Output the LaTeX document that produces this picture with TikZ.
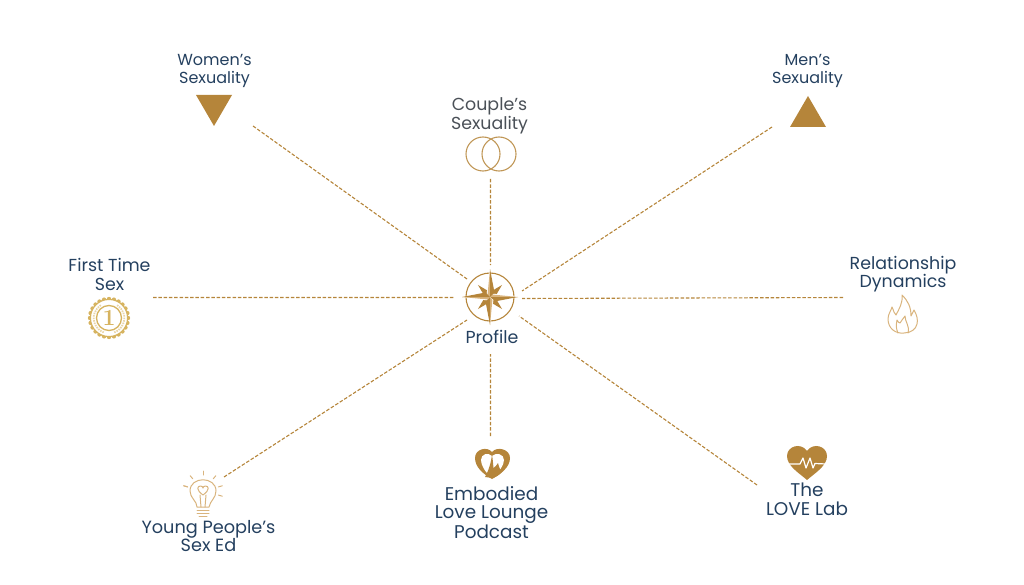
\documentclass[tikz,border=0pt]{standalone}
\usepackage{fontspec}
\setmainfont{Poppins}
\definecolor{gold}{HTML}{B5853A}
\definecolor{palegold}{HTML}{D9B47E}
\definecolor{medal}{HTML}{D6B35F}
\definecolor{navy}{HTML}{24405F}
\definecolor{slate}{HTML}{4A5057}
\tikzset{
  link/.style={gold, line width=1.1pt, dash pattern=on 3.5pt off 1.8pt},
  tag/.style={navy, align=center, inner sep=0pt},
  tagsmall/.style={tag, font=\fontsize{16}{18.5}\selectfont},
  tagmid/.style={tag, font=\fontsize{17.4}{18.5}\selectfont},
  tagbig/.style={tag, font=\fontsize{18.4}{18.5}\selectfont},
  thinicon/.style={palegold, line width=1pt, line cap=round, line join=round},
  ringicon/.style={gold!85!white, line width=1.1pt},
}
\begin{document}
\begin{tikzpicture}[x=1pt,y=-1pt]
\useasboundingbox (0,0) rectangle (1024,585);

% labels
\node (women) at (214.5,71) [tagsmall] {Women’s\\Sexuality};
\node (couple) at (489.5,116) [tagmid, slate] {Couple’s\\Sexuality};
\node (men) at (807.5,71) [tagsmall] {Men’s\\Sexuality};
\node (first) at (109.5,274.5) [tagmid] {First Time\\Sex};
\node (relation) at (903,274) [tagmid] {Relationship\\Dynamics};
\node (profile) at (492,337) [tagmid] {Profile};
\node (young) at (208.5,536) [tagmid, font=\fontsize{17.7}{18.5}\selectfont] {Young People’s\\Sex Ed};
\node (podcast) at (491.5,512.5) [tagbig] {Embodied\\Love Lounge\\Podcast};
\node (lab) at (807,499.5) [tagbig] {The\\LOVE Lab};

% connector ends
\coordinate (w0) at (253,126);
\coordinate (w1) at (467,279);
\coordinate (c0) at (490.5,179);
\coordinate (c1) at (490.5,265);
\coordinate (m0) at (772,127);
\coordinate (m1) at (522,291);
\coordinate (f0) at (153,297.5);
\coordinate (f1) at (455,297.5);
\coordinate (r0) at (843,297.5);
\coordinate (r1) at (522,298.5);
\coordinate (y0) at (224,477);
\coordinate (y1) at (467,320);
\coordinate (p0) at (490.5,354);
\coordinate (p1) at (490.5,436);
\coordinate (l0) at (757,485);
\coordinate (l1) at (519,316);

\draw[link]
(w0) to (w1)
(c0) to (c1)
(m0) to (m1)
(f0) to (f1)
(r0) to (r1)
(y0) to (y1)
(p1) to (p0)
(l0) to (l1);

% triangles
\fill[gold] (196,95) -- (232,95) -- (214,126) -- cycle;
\fill[gold] (790,127) -- (826,127) -- (808,96) -- cycle;

% rings
\draw[ringicon] (483,154) circle (17);
\draw[ringicon] (499,154) circle (17);

% compass
\draw[gold, line width=1.1pt] (490,297) circle (24);
\foreach \a in {45,135,225,315}
{
\begin{scope}[shift={(490,297)},rotate=\a]
\fill[gold] (0,0) -- (3.5,3.5) -- (17,0) -- (3.5,-3.5) -- cycle;
\end{scope}
}
\foreach \a in {0,90,180,270}
{
\begin{scope}[shift={(490,297)},rotate=\a]
\fill[white] (0,0) -- (28,0) -- (3,-3.4) -- cycle;
\fill[palegold] (0,0) -- (28,0) -- (3,-2.4) -- cycle;
\fill[gold] (0,0) -- (28,0) -- (4.5,4.5) -- cycle;
\end{scope}
}

% medal
\foreach \a in {0,15,...,345}
\fill[medal] (109,318) ++(\a:19) circle (2.2);
\fill[white] (109,318) circle (18.6);
\draw[medal, line width=1.2pt] (109,318) circle (18.6);
\draw[medal!55!white, line width=1.8pt, dash pattern=on 1.5pt off 1pt] (109,318) ++(110:15.3) arc (110:240:15.3);
\draw[medal!55!white, line width=1.8pt, dash pattern=on 1.5pt off 1pt] (109,318) ++(70:15.3) arc (70:-60:15.3);
\draw[medal, line width=1.3pt] (109,318) circle (12.5);
\node (one) at (109,317.5) [medal, inner sep=0pt, font=\fontspec{Latin Modern Roman}\bfseries\fontsize{23}{23}\selectfont] {1};

% flame
\draw[thinicon]
(904,333) .. controls (895,334) and (888,328) .. (888,319)
.. controls (888,314) and (891,311) .. (892,307)
.. controls (894,311) and (894,314) .. (896,315)
.. controls (899,309) and (903,303) .. (902,295)
.. controls (908,301) and (911,307) .. (911,316)
.. controls (912,314) and (913,312) .. (914,310)
.. controls (917,315) and (918,320) .. (917,324)
.. controls (916,329) and (911,333) .. (904,333);
\draw[thinicon]
(898,333) .. controls (896,329) and (896,325) .. (897,320)
.. controls (898,322) and (899,323) .. (900,323)
.. controls (901,321) and (903,319) .. (905,316)
.. controls (905,322) and (910,326) .. (908,333);

% bulb
\draw[thinicon] (197,507) .. controls (197,501) and (190,498) .. (190,491)
.. controls (190,476) and (216,476) .. (216,491)
.. controls (216,498) and (210,501) .. (209,507) -- cycle;
\draw[thinicon] (197,510) -- (209,510) (197,513) -- (209,513) (199,516.5) -- (207,516.5);
\draw[thinicon] (201,507) -- (200,495) (205,507) -- (206,495);
\draw[thinicon] (203,495) .. controls (196,490) and (197,486) .. (200.5,486)
.. controls (202,486) and (203,487) .. (203,488)
.. controls (203,487) and (204,486) .. (205.5,486)
.. controls (209,486) and (210,490) .. (203,495);
\foreach \a in {-15,-50,-90,-130,-165,15,195}
\draw[thinicon] (203,491) ++(\a:16) -- ++(\a:4);

% podcast heart
\fill[gold] (492,479) .. controls (483,474) and (475,467) .. (475,458)
.. controls (475,449) and (487,446) .. (492,452)
.. controls (497,446) and (510,449) .. (510,458)
.. controls (510,467) and (501,474) .. (492,479) -- cycle;
\fill[white] (491,477) .. controls (485,472) and (481,465) .. (481,460)
.. controls (481,454) and (488,452) .. (492,456)
.. controls (496,452) and (504,454) .. (504,460)
.. controls (504,465) and (499,472) .. (493,477) -- cycle;
\fill[gold] (485,477) .. controls (489,470) and (491,462) .. (492,455)
.. controls (493,460) and (493,464) .. (493.5,468)
.. controls (495,467) and (497,465) .. (498,463)
.. controls (499,467) and (500,470) .. (502,472)
.. controls (499,475) and (496,477) .. (493,478) -- cycle;

% love heart
\fill[gold] (807,480) .. controls (799,473) and (787,466) .. (787,456)
.. controls (787,446) and (801,442) .. (807,451)
.. controls (813,442) and (827,446) .. (827,456)
.. controls (827,466) and (815,473) .. (807,480) -- cycle;
\draw[white, line width=1.2pt, line join=round]
(788,464) -- (800,464) -- (803,458) -- (806,468) -- (810,458) -- (813,468) -- (815,463.5) -- (826,464);

\end{tikzpicture}
\end{document}
